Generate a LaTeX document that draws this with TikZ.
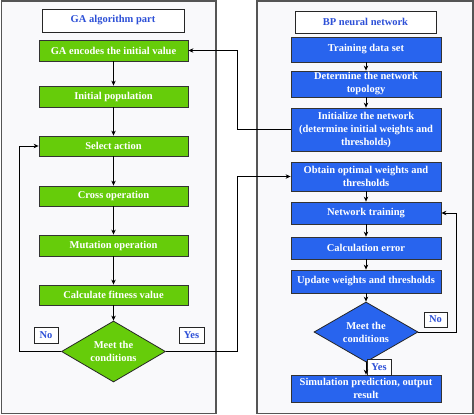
\documentclass[tikz,border=0pt]{standalone}
\usepackage{fontspec}
\setmainfont{Liberation Serif}
\usetikzlibrary{shapes.geometric,arrows.meta}
\definecolor{gagreen}{RGB}{102,204,10}
\definecolor{bpblue}{RGB}{40,100,238}
\definecolor{txtblue}{RGB}{45,80,215}
\definecolor{framegray}{RGB}{85,85,85}
\definecolor{panelfill}{RGB}{249,249,251}
\tikzset{
  panel/.style={draw=framegray,line width=1.6pt,fill=panelfill},
  base/.style={font=\fontsize{10.5}{13}\selectfont\bfseries,inner sep=1pt,align=center,line width=0.8pt},
  titlebox/.style={base,draw=black!85,fill=white,text=txtblue},
  gbox/.style={base,draw=black!80,fill=gagreen,text=white,minimum width=149pt},
  bbox/.style={base,draw=black!80,fill=bpblue,text=white,minimum width=150pt},
  gdia/.style={base,diamond,draw=black!85,fill=gagreen,text=white,inner sep=0pt,aspect=1.7,minimum width=104pt,minimum height=61pt},
  bdia/.style={base,diamond,draw=black!85,fill=bpblue,text=white,inner sep=0pt,aspect=1.7,minimum width=104pt,minimum height=60pt},
  lbl/.style={base,draw=black!85,fill=white,text=txtblue,inner sep=0pt},
  conn/.style={draw=black,line width=0.8pt,-{Stealth[length=5pt,width=4.5pt]}},
  wire/.style={draw=black,line width=0.8pt}
}
\begin{document}
\begin{tikzpicture}[x=1pt,y=-1pt]
\useasboundingbox (0,0) rectangle (474,415);
% panels
\path[panel] (1.5,0.8) rectangle (216,413.5);
\path[panel] (257,0.8) rectangle (472.8,413.5);

% left column
\node[titlebox,minimum width=142pt,minimum height=23pt] (gat) at (113,20.5) {GA algorithm part};
\node[gbox,minimum height=21pt] (ga1) at (113.5,50.5) {GA encodes the initial value};
\node[gbox,minimum height=21pt] (ga2) at (113.5,96.5) {Initial population};
\node[gbox,minimum height=20pt] (ga3) at (113.5,146) {Select action};
\node[gbox,minimum height=20pt] (ga4) at (113.5,196) {Cross operation};
\node[gbox,minimum height=21pt] (ga5) at (113.5,245.5) {Mutation operation};
\node[gbox,minimum height=20pt] (ga6) at (113.5,295) {Calculate fitness value};
\node[gdia] (gad) at (113.5,351.5) {Meet the\\conditions};
\node[lbl,minimum width=24pt,minimum height=16pt] (gno) at (46,335) {No};
\node[lbl,minimum width=25pt,minimum height=16pt] (gyes) at (191.5,335) {Yes};

% right column
\node[titlebox,minimum width=141pt,minimum height=22pt] (bpt) at (365.5,22) {BP neural network};
\node[bbox,minimum height=25pt] (bp1) at (366,49.5) {Training data set};
\node[bbox,minimum height=26pt] (bp2) at (366,84) {Determine the network\\topology};
\node[bbox,minimum height=43pt] (bp3) at (366,129.5) {Initialize the network\\(determine initial weights and\\thresholds)};
\node[bbox,minimum height=29pt] (bp4) at (366,176.5) {Obtain optimal weights and\\thresholds};
\node[bbox,minimum height=22pt] (bp5) at (366,213) {Network training};
\node[bbox,minimum height=22pt] (bp6) at (366,248) {Calculation error};
\node[bbox,minimum height=23pt] (bp7) at (366,281.5) {Update weights and thresholds};
\node[bdia] (bpd) at (366,332) {Meet the\\conditions};
\node[bbox,minimum height=27pt] (bp8) at (366,388.5) {Simulation prediction, output\\result};
\node[lbl,minimum width=24pt,minimum height=16pt] (byes) at (379,367) {Yes};
\node[lbl,minimum width=23pt,minimum height=15pt] (bno) at (435.5,319.5) {No};

\coordinate (c1) at (237.5,0);
\coordinate (c2) at (19.5,0);
\coordinate (c3) at (456,0);

% left flow
\draw[conn] (ga1) -- (ga2);
\draw[conn] (ga2) -- (ga3);
\draw[conn] (ga3) -- (ga4);
\draw[conn] (ga4) -- (ga5);
\draw[conn] (ga5) -- (ga6);
\draw[conn] (ga6) -- (gad);
\draw[conn] (gad.west) -- (gad.west -| c2) -- (ga3.west -| c2) -- (ga3.west);
\draw[conn] (gad.east) -- (gad.east -| c1) -- (bp4.west -| c1) -- (bp4.west);
\draw[conn] (bp3.west) -- (bp3.west -| c1) -- (ga1.east -| c1) -- (ga1.east);

% right flow
\draw[conn] (bp1) -- (bp2);
\draw[conn] (bp2) -- (bp3);
\draw[conn] (bp4) -- (bp5);
\draw[conn] (bp5) -- (bp6);
\draw[conn] (bp6) -- (bp7);
\draw[conn] (bp7) -- (bpd);
\draw[conn] (bpd) -- (bp8);
\draw[conn] (bpd.east) -- (bpd.east -| c3) -- (bp5.east -| c3) -- (bp5.east);
\end{tikzpicture}
\end{document}
